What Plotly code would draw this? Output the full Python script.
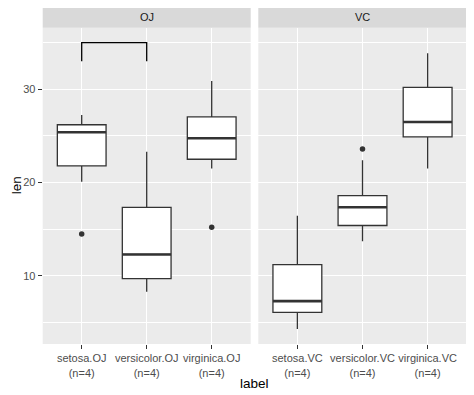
import plotly.graph_objects as go

# ---- data ----
panels = ["OJ", "VC"]
categories_oj = ["setosa.OJ", "versicolor.OJ", "virginica.OJ"]
categories_vc = ["setosa.VC", "versicolor.VC", "virginica.VC"]
n_labels = ["(n=4)", "(n=4)", "(n=4)"]

oj_lower = [20.1, 8.3, 21.5]
oj_q1 = [21.8, 9.7, 22.5]
oj_median = [25.4, 12.3, 24.75]
oj_q3 = [26.2, 17.35, 27.05]
oj_upper = [27.25, 23.3, 30.9]
oj_outlier_idx = [0, 2]
oj_outlier_val = [14.5, 15.2]

vc_lower = [4.3, 13.7, 21.5]
vc_q1 = [6.1, 15.4, 24.9]
vc_median = [7.3, 17.35, 26.5]
vc_q3 = [11.2, 18.6, 30.2]
vc_upper = [16.45, 22.4, 33.85]
vc_outlier_idx = [1]
vc_outlier_val = [23.6]

bracket_pair = [0, 1]      # setosa.OJ vs versicolor.OJ
bracket_y = 35.0
bracket_tip = 33.0

y_ticks = [10, 20, 30]
y_minor = [5, 15, 25, 35]
y_range = [2.7, 36.6]

# ---- layout constants ----
WIN_W, WIN_H = 474, 395
OFF = 8                      # default page body margin
W, H = WIN_W - OFF, WIN_H - OFF
BOX_W = 0.75
LINE = "#333333"
FONT = "Liberation Sans, Arial, sans-serif"

def px_x(p):
    return (p - OFF) / W

def px_y(p):
    return 1 - (p - OFF) / H

x1_dom = [px_x(42.7), px_x(250.7)]
x2_dom = [px_x(258.3), px_x(466.7)]
y_dom = [px_y(344), px_y(27.7)]
strip_top = min(px_y(6.7), 1.0)

fig = go.Figure()

def add_panel(xa, ya, cats, lo, q1, med, q3, up, oidx, oval):
    idx = list(range(len(cats)))
    fig.add_trace(go.Box(
        x=idx, q1=q1, median=med, q3=q3, lowerfence=lo, upperfence=up,
        width=BOX_W, whiskerwidth=0, fillcolor="white",
        line=dict(color=LINE, width=1.3), boxpoints=False,
        xaxis=xa, yaxis=ya, showlegend=False, hoverinfo="skip"))
    for i, m in zip(idx, med):
        fig.add_trace(go.Scatter(
            x=[i - BOX_W / 2, i + BOX_W / 2], y=[m, m], mode="lines",
            line=dict(color=LINE, width=2.6), xaxis=xa, yaxis=ya,
            showlegend=False, hoverinfo="skip"))
    fig.add_trace(go.Scatter(
        x=oidx, y=oval, mode="markers",
        marker=dict(color=LINE, size=5.5), xaxis=xa, yaxis=ya,
        showlegend=False, hoverinfo="skip"))

add_panel("x", "y", categories_oj, oj_lower, oj_q1, oj_median, oj_q3, oj_upper,
          oj_outlier_idx, oj_outlier_val)
add_panel("x2", "y2", categories_vc, vc_lower, vc_q1, vc_median, vc_q3, vc_upper,
          vc_outlier_idx, vc_outlier_val)

# significance bracket
fig.add_trace(go.Scatter(
    x=[bracket_pair[0], bracket_pair[0], bracket_pair[1], bracket_pair[1]],
    y=[bracket_tip, bracket_y, bracket_y, bracket_tip],
    mode="lines", line=dict(color="black", width=1.3),
    xaxis="x", yaxis="y", showlegend=False, hoverinfo="skip"))

def xaxis_cfg(dom, cats):
    return dict(
        domain=dom, range=[-0.6, len(cats) - 0.4],
        tickvals=list(range(len(cats))),
        ticktext=[f"{c}<br>{n}" for c, n in zip(cats, n_labels)],
        showgrid=True, gridcolor="white", gridwidth=1.1,
        zeroline=False, ticks="outside", ticklen=4, tickwidth=1.1,
        tickcolor="#333333", tickfont=dict(size=11, color="#4D4D4D", family=FONT),
        fixedrange=True)

def yaxis_cfg(show_labels, anchor):
    return dict(
        domain=y_dom, range=y_range, tickvals=y_ticks,
        showgrid=True, gridcolor="white", gridwidth=1.1,
        minor=dict(tickvals=y_minor, showgrid=True, gridcolor="white",
                   gridwidth=0.5, ticks=""),
        zeroline=False, ticks="outside" if show_labels else "",
        ticklen=4, tickwidth=1.1, tickcolor="#333333",
        showticklabels=show_labels, anchor=anchor,
        tickfont=dict(size=11, color="#4D4D4D", family=FONT),
        fixedrange=True)

fig.update_layout(
    width=W, height=H,
    margin=dict(l=0, r=0, t=0, b=0),
    paper_bgcolor="white", plot_bgcolor="#EBEBEB",
    font=dict(family=FONT),
    xaxis=xaxis_cfg(x1_dom, categories_oj),
    xaxis2=dict(xaxis_cfg(x2_dom, categories_vc), anchor="y2"),
    yaxis=yaxis_cfg(True, "x"),
    yaxis2=dict(yaxis_cfg(False, "x2"), matches="y"),
)

# strips
for dom, name in zip([x1_dom, x2_dom], panels):
    fig.add_shape(type="rect", xref="paper", yref="paper",
                  x0=dom[0], x1=dom[1], y0=y_dom[1], y1=strip_top,
                  fillcolor="#D9D9D9", line=dict(width=0), layer="below")
    fig.add_annotation(x=(dom[0] + dom[1]) / 2, y=px_y(17.2),
                       xref="paper", yref="paper", text=name, showarrow=False,
                       font=dict(size=11, color="#1A1A1A", family=FONT),
                       xanchor="center", yanchor="middle")

# axis titles
fig.add_annotation(x=(x1_dom[0] + x2_dom[1]) / 2, y=px_y(383), xref="paper", yref="paper",
                   text="label", showarrow=False, xanchor="center", yanchor="middle",
                   font=dict(size=13.5, color="black", family=FONT))
fig.add_annotation(x=px_x(8), y=(y_dom[0] + y_dom[1]) / 2, xref="paper", yref="paper",
                   text="len", showarrow=False, textangle=-90, xanchor="left",
                   yanchor="middle", font=dict(size=13.5, color="black", family=FONT),
                   borderpad=0)

fig.write_html("out.html")
